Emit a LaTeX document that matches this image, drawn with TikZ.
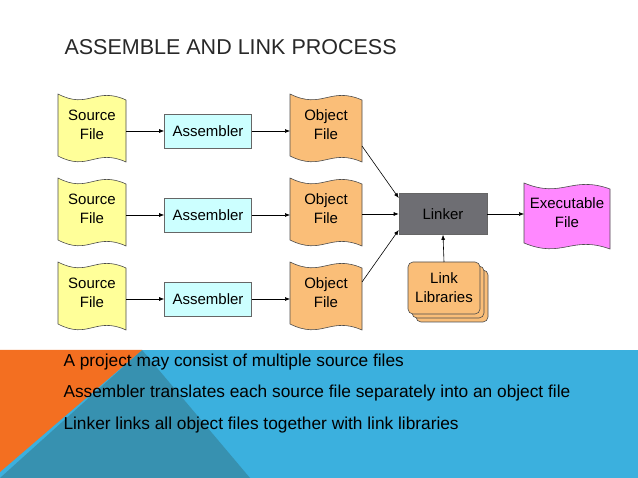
\documentclass[tikz,border=0pt]{standalone}
\usepackage{fontspec}
\setmainfont{Liberation Sans}
\usetikzlibrary{arrows.meta, positioning, backgrounds}
\definecolor{srcyellow}{RGB}{255,255,153}
\definecolor{objorange}{RGB}{250,190,120}
\definecolor{exepink}{RGB}{255,136,255}
\definecolor{asmcyan}{RGB}{204,255,255}
\definecolor{linkgray}{RGB}{110,110,115}
\definecolor{bandblue}{RGB}{59,176,222}
\definecolor{banddark}{RGB}{55,145,176}
\definecolor{bandorange}{RGB}{243,111,33}
\definecolor{titlegray}{RGB}{40,40,40}
\tikzset{doctext/.style={align=center, font=\fontsize{15}{19}\selectfont, inner sep=0pt},
  boxnode/.style={draw=black!60, line width=0.6pt, minimum width=87pt, minimum height=34pt, font=\fontsize{15}{18}\selectfont},
  flow/.style={-{Latex[length=5pt, width=4pt]}, line width=0.6pt}}
% wavy document: name, centre, width, height, colour, text
\newcommand{\tapedoc}[6]{%
  \node[doctext] (#1) at (#2) {#6};
  \begin{scope}[on background layer]
    \draw[fill=#5, draw=black!70, line width=0.6pt]
      ([shift={(-#3/2,-#4/2)}]#1.center) .. controls +(0.45*#3,16) and +(-0.45*#3,-14) .. ([shift={(#3/2,-#4/2+6)}]#1.center)
      -- ([shift={(#3/2,#4/2+6)}]#1.center) .. controls +(-0.45*#3,-14) and +(0.45*#3,16) .. ([shift={(-#3/2,#4/2)}]#1.center)
      -- cycle;
  \end{scope}}
\begin{document}
\begin{tikzpicture}[x=1pt, y=-1pt]
    \useasboundingbox (0,0) rectangle (638,478);
    % Band
    \fill[bandblue] (0,350) rectangle (638,478);
    \fill[banddark] (0,478) -- (142,350) -- (250,478) -- cycle;
    \fill[bandorange] (0,350) -- (142,350) -- (0,472) -- cycle;
    % Title
    \node[anchor=west, text=titlegray, font=\fontsize{21.5}{24}\selectfont] (title) at (61,47) {ASSEMBLE AND LINK PROCESS};
    % Rows
    \foreach \row/\y in {1/127, 2/211, 3/295} {
        \tapedoc{src\row}{92,\y-2}{68}{62}{srcyellow}{Source\\File}
        \node[boxnode, fill=asmcyan] (asm\row) at (208,\y+4) {Assembler};
        \tapedoc{obj\row}{326,\y-2}{72}{62}{objorange}{Object\\File}
        \coordinate (s\row) at (126,\y+4);
        \coordinate (o\row) at (290,\y+4);
        \draw[flow] (s\row) -- (asm\row);
        \draw[flow] (asm\row) -- (o\row);
    }
    % Linker
    \node[boxnode, fill=linkgray, minimum width=88pt, minimum height=41pt] (linker) at (443,214) {Linker};
    \tapedoc{exe}{567,213}{86}{60}{exepink}{Executable\\File}
    \coordinate (e) at (524,214);
    \draw[flow] (linker) -- (e);
    % Libraries
    \foreach \d in {8,4,0}
        \draw[fill=objorange, draw=black!70, line width=0.6pt, rounded corners=5pt] (408+\d,262+\d) rectangle ++(72,52);
    \node[doctext] (libs) at (444,288) {Link\\Libraries};
    \coordinate (l) at (444,262);
    \draw[flow] (l) -- (linker.south);
    \coordinate (t1a) at (362,146);
    \coordinate (t2a) at (362,214);
    \coordinate (t3a) at (362,282);
    \draw[flow] (t1a) -- ([yshift=16pt]linker.west);
    \draw[flow] (t2a) -- (linker.west);
    \draw[flow] (t3a) -- ([yshift=-16pt]linker.west);
    % Text lines
    \node[anchor=west, font=\fontsize{17.3}{20}\selectfont] (t1) at (60,362) {A project may consist of multiple source files};
    \node[anchor=west, font=\fontsize{17.3}{20}\selectfont] (t2) at (60,393) {Assembler translates each source file separately into an object file};
    \node[anchor=west, font=\fontsize{17.3}{20}\selectfont] (t3) at (60,425) {Linker links all object files together with link libraries};
\end{tikzpicture}
\end{document}
